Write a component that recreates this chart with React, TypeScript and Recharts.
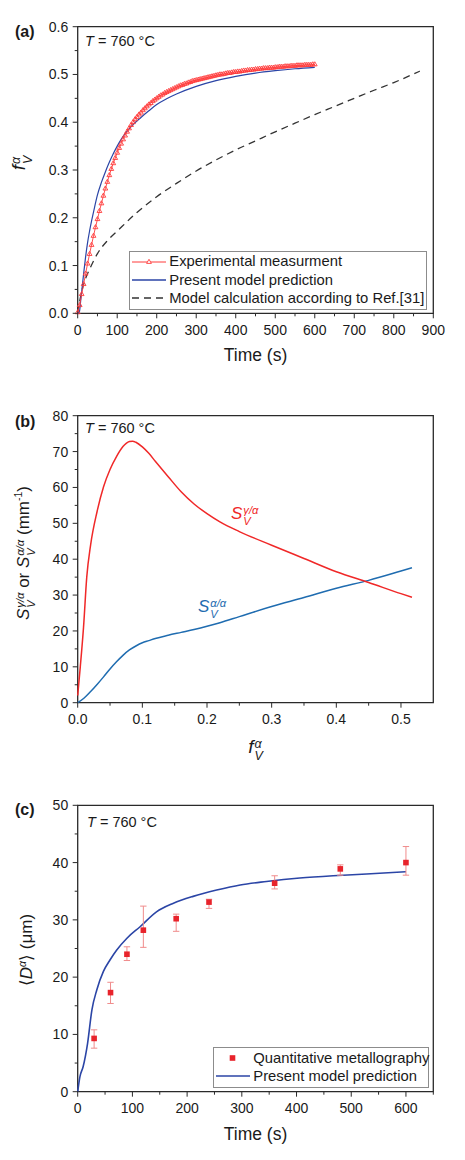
import React from "react"
import {
  LineChart,
  ComposedChart,
  Line,
  Scatter,
  ErrorBar,
  XAxis,
  YAxis,
  ReferenceArea,
} from "recharts"

const FONT = '"Liberation Sans", Arial, Helvetica, sans-serif'
const INK = "#1a1a1a"
const AXIS = "#2a2a2a"
const EXP_RED = "#ff3b3b"
const NAVY = "#2b45a6"
const B_RED = "#f02828"
const B_BLUE = "#1f6cb0"
const SQ_RED = "#e8232b"
const ERR_RED = "#f08c8c"

// ---- panel (a): ferrite fraction vs time ----
const timeMajor = [0, 100, 200, 300, 400, 500, 600, 700, 800, 900]
const timeMinor = [50, 150, 250, 350, 450, 550, 650, 750, 850]
const fracMajor = [0, 0.1, 0.2, 0.3, 0.4, 0.5, 0.6]
const fracMinor = [0.05, 0.15, 0.25, 0.35, 0.45, 0.55]

// experimental points, one every 5 s from 0 to 600 s
const expStep = 5
const expFraction = [
  0.002, 0.017, 0.04, 0.061, 0.083, 0.104, 0.124, 0.143, 0.162, 0.18, 0.197,
  0.214, 0.23, 0.246, 0.261, 0.275, 0.289, 0.302, 0.314, 0.325, 0.336,
  0.346, 0.355, 0.364, 0.372, 0.38, 0.387, 0.394, 0.4, 0.406, 0.411,
  0.416, 0.42, 0.425, 0.429, 0.433, 0.437, 0.44, 0.444, 0.447, 0.45,
  0.453, 0.456, 0.458, 0.461, 0.463, 0.465, 0.467, 0.469, 0.471, 0.473,
  0.475, 0.477, 0.478, 0.48, 0.481, 0.483, 0.484, 0.486, 0.487, 0.488,
  0.489, 0.49, 0.491, 0.492, 0.493, 0.494, 0.495, 0.496, 0.497, 0.498,
  0.499, 0.5, 0.5, 0.501, 0.502, 0.503, 0.503, 0.504, 0.505, 0.505,
  0.506, 0.506, 0.507, 0.508, 0.508, 0.509, 0.509, 0.51, 0.51, 0.511,
  0.511, 0.512, 0.512, 0.513, 0.513, 0.513, 0.514, 0.514, 0.514, 0.515,
  0.515, 0.516, 0.516, 0.516, 0.517, 0.517, 0.517, 0.518, 0.518, 0.518,
  0.519, 0.519, 0.519, 0.519, 0.52, 0.52, 0.52, 0.52, 0.521, 0.521,
]

const modelTime = [
  0, 4, 8, 12, 16, 20, 25, 30, 35, 40, 50, 60, 70, 80, 90, 100, 110, 120, 130,
  140, 160, 180, 200, 225, 250, 300, 350, 400, 450, 500, 550, 600,
]
const modelFraction = [
  0, 0.002, 0.03, 0.06, 0.09, 0.118, 0.148, 0.172, 0.193, 0.212, 0.248, 0.274,
  0.296, 0.316, 0.334, 0.35, 0.364, 0.376, 0.386, 0.395, 0.41, 0.424, 0.437,
  0.449, 0.459, 0.475, 0.487, 0.496, 0.503, 0.508, 0.512, 0.515,
]

const refTime = [
  0, 5, 10, 20, 30, 50, 75, 100, 150, 200, 250, 300, 350, 400, 450, 500, 550,
  600, 650, 700, 750, 800, 866,
]
const refFraction = [
  0, 0.025, 0.045, 0.073, 0.092, 0.125, 0.152, 0.172, 0.211, 0.244, 0.272,
  0.298, 0.321, 0.342, 0.361, 0.38, 0.398, 0.416, 0.433, 0.45, 0.467, 0.483,
  0.507,
]

// ---- panel (b): interface area vs fraction ----
const bFracMajor = [0, 0.1, 0.2, 0.3, 0.4, 0.5]
const bFracMinor = [0.05, 0.15, 0.25, 0.35, 0.45]
const areaMajor = [0, 10, 20, 30, 40, 50, 60, 70, 80]
const areaMinor = [5, 15, 25, 35, 45, 55, 65, 75]

const gammaFrac = [
  0, 0.004, 0.009, 0.014, 0.02, 0.03, 0.04, 0.05, 0.06, 0.07, 0.075, 0.08,
  0.085, 0.09, 0.1, 0.11, 0.12, 0.14, 0.16, 0.18, 0.2, 0.22, 0.25, 0.3, 0.35,
  0.4, 0.45, 0.5, 0.517,
]
const gammaArea = [
  2, 10, 21, 35, 44, 53.3, 60.2, 65, 68.6, 71.4, 72.3, 72.8, 72.9, 72.6, 71.3,
  69.5, 67.3, 63, 58.8, 55.4, 52.7, 50.4, 47.7, 43.9, 40.2, 36.5, 33.5, 30.4,
  29.4,
]

const alphaFrac = [
  0, 0.01, 0.02, 0.03, 0.04, 0.05, 0.06, 0.07, 0.08, 0.09, 0.1, 0.11, 0.12,
  0.14, 0.16, 0.18, 0.2, 0.22, 0.25, 0.3, 0.35, 0.4, 0.45, 0.5, 0.517,
]
const alphaArea = [
  0, 1.3, 3.1, 5.1, 7.2, 9.4, 11.4, 13.2, 14.7, 15.8, 16.7, 17.3, 17.9, 18.8,
  19.6, 20.4, 21.3, 22.3, 24, 26.8, 29.3, 31.9, 34.1, 36.7, 37.6,
]

// ---- panel (c): grain size vs time ----
const cTimeMajor = [0, 100, 200, 300, 400, 500, 600]
const cTimeMinor = [50, 150, 250, 350, 450, 550, 650]
const sizeMajor = [0, 10, 20, 30, 40, 50]
const sizeMinor = [5, 15, 25, 35, 45]

const metTime = [30, 60, 90, 120, 180, 240, 360, 480, 600]
const metSize = [9.3, 17.3, 24.0, 28.2, 30.2, 33.1, 36.4, 38.9, 40.0]
const metUpper = [10.8, 19.1, 25.3, 32.4, 31.0, 33.6, 37.7, 39.6, 42.8]
const metLower = [7.6, 15.4, 22.9, 25.2, 28.0, 32.0, 35.4, 37.8, 37.8]

const sizeModelTime = [
  0, 4, 10, 18, 26, 35, 47, 59, 71, 90, 114, 144, 175, 211, 254, 297, 345, 406,
  467, 528, 600,
]
const sizeModel = [
  0, 2.6, 4.4, 8.4, 14.3, 17.8, 21.0, 23.0, 24.7, 26.8, 28.8, 31.4, 32.9, 34.1,
  35.2, 36.1, 36.7, 37.3, 37.7, 38.0, 38.4,
]

const pairs = (xs: number[], ys: number[]) => xs.map((x, i) => ({ x, y: ys[i] }))

const expData = expFraction.map((y, i) => ({ x: i * expStep, y }))
const modelData = pairs(modelTime, modelFraction)
const refData = pairs(refTime, refFraction)
const gammaData = pairs(gammaFrac, gammaArea)
const alphaData = pairs(alphaFrac, alphaArea)
const metData = metTime.map((x, i) => ({
  x,
  y: metSize[i],
  err: [metSize[i] - metLower[i], metUpper[i] - metSize[i]],
}))
const sizeModelData = pairs(sizeModelTime, sizeModel)

const isMajor = (v: number, majors: number[]) =>
  majors.some((m) => Math.abs(m - v) < 1e-9)
const allTicks = (a: number[], b: number[]) => [...a, ...b].sort((p, q) => p - q)

function BottomTick({ x, y, payload, majors, fmt }: any) {
  const major = isMajor(payload.value, majors)
  return (
    <g>
      <line x1={x} x2={x} y1={y} y2={y + (major ? 5 : 3)} stroke={AXIS} strokeWidth={1} />
      {major && (
        <text x={x} y={y + 21.5} textAnchor="middle" fontSize={14} fill={INK} fontFamily={FONT}>
          {fmt(payload.value)}
        </text>
      )}
    </g>
  )
}

function LeftTick({ x, y, payload, majors, fmt }: any) {
  const major = isMajor(payload.value, majors)
  return (
    <g>
      <line x1={x} x2={x - (major ? 5 : 3)} y1={y} y2={y} stroke={AXIS} strokeWidth={1} />
      {major && (
        <text x={x - 9.5} y={y + 5} textAnchor="end" fontSize={14} fill={INK} fontFamily={FONT}>
          {fmt(payload.value)}
        </text>
      )}
    </g>
  )
}

const fixed1 = (v: number) => v.toFixed(1)
const whole = (v: number) => String(Math.round(v))

function Triangle(props: any) {
  const { cx, cy, index } = props
  if (cx == null || cy == null) return <g key={`t-${index}`} />
  return (
    <path
      key={`t-${index}`}
      d={`M${cx},${cy - 2.7}L${cx - 2.4},${cy + 1.4}L${cx + 2.4},${cy + 1.4}Z`}
      fill="none"
      stroke={EXP_RED}
      strokeWidth={0.9}
    />
  )
}

function Square(props: any) {
  const { cx, cy } = props
  return <rect x={cx - 2.8} y={cy - 2.8} width={5.6} height={5.6} fill={SQ_RED} />
}

function SubSup({ sub, sup }: { sub: string; sup: string }) {
  return (
    <span
      style={{
        display: "inline-flex",
        flexDirection: "column",
        verticalAlign: "0.42em",
        lineHeight: 0.95,
        fontSize: "0.66em",
        marginLeft: 1,
      }}
    >
      <span>{sup}</span>
      <span>{sub}</span>
    </span>
  )
}

function Txt({
  x,
  y,
  children,
  size = 14.5,
  rotate = false,
  center = false,
  style,
}: {
  x: number
  y: number
  children: React.ReactNode
  size?: number
  rotate?: boolean
  center?: boolean
  style?: React.CSSProperties
}) {
  const shift = center || rotate ? "-50%" : "0"
  return (
    <div
      style={{
        position: "absolute",
        left: x,
        top: y,
        transform: `translate(${shift}, -50%)${rotate ? " rotate(-90deg)" : ""}`,
        fontSize: size,
        color: INK,
        whiteSpace: "nowrap",
        lineHeight: 1.1,
        ...style,
      }}
    >
      {children}
    </div>
  )
}

const fV = (
  <>
    <i>f</i>
    <i>
      <SubSup sub="V" sup="α" />
    </i>
  </>
)

function Sample({ kind }: { kind: "exp" | "model" | "ref" | "square" | "line" }) {
  return (
    <svg width={34} height={10} style={{ display: "block", flexShrink: 0 }}>
      {kind === "exp" && (
        <>
          <line x1={0} x2={34} y1={5} y2={5} stroke={EXP_RED} strokeWidth={1} />
          <path d="M17,2.3L14.6,6.4L19.4,6.4Z" fill="white" stroke={EXP_RED} strokeWidth={0.9} />
        </>
      )}
      {(kind === "model" || kind === "line") && (
        <line x1={0} x2={34} y1={5} y2={5} stroke={NAVY} strokeWidth={1.3} />
      )}
      {kind === "ref" && (
        <line x1={0} x2={34} y1={5} y2={5} stroke="#333" strokeWidth={1.3} strokeDasharray="7 5" />
      )}
      {kind === "square" && <rect x={13.7} y={2.2} width={5.6} height={5.6} fill={SQ_RED} />}
    </svg>
  )
}

function LegendBox({
  left,
  top,
  width,
  rows,
}: {
  left: number
  top: number
  width: number
  rows: { kind: any; label: string }[]
}) {
  return (
    <div
      style={{
        position: "absolute",
        left,
        top,
        width,
        boxSizing: "border-box",
        border: "1px solid #8c8c8c",
        background: "white",
        padding: "1px 0 1px 2px",
      }}
    >
      {rows.map((r) => (
        <div key={r.label} style={{ display: "flex", alignItems: "center", height: 18.3 }}>
          <Sample kind={r.kind} />
          <span
            style={{
              marginLeft: 3,
              fontSize: 14.8,
              color: INK,
              lineHeight: 1,
              whiteSpace: "nowrap",
            }}
          >
            {r.label}
          </span>
        </div>
      ))}
    </div>
  )
}

function PanelA() {
  return (
    <LineChart width={465} height={370} margin={{ top: 26.7, right: 31.7, left: 27.7, bottom: 26.7 }}>
      <XAxis
        dataKey="x"
        type="number"
        domain={[0, 900]}
        ticks={allTicks(timeMajor, timeMinor)}
        interval={0}
        height={30}
        axisLine={false}
        tickLine={false}
        tickSize={0}
        tickMargin={0}
        tick={<BottomTick majors={timeMajor} fmt={whole} />}
      />
      <YAxis
        type="number"
        domain={[0, 0.6]}
        ticks={allTicks(fracMajor, fracMinor)}
        interval={0}
        width={50}
        axisLine={false}
        tickLine={false}
        tickSize={0}
        tickMargin={0}
        tick={<LeftTick majors={fracMajor} fmt={fixed1} />}
      />
      <ReferenceArea x1={0} x2={900} y1={0} y2={0.6} fill="none" stroke={AXIS} strokeWidth={1.3} ifOverflow="visible" />
      <Line data={refData} dataKey="y" type="monotone" stroke="#333" strokeWidth={1.3} strokeDasharray="7 5" dot={false} activeDot={false} isAnimationActive={false} />
      <Line data={modelData} dataKey="y" type="monotone" stroke={NAVY} strokeWidth={1.2} dot={false} activeDot={false} isAnimationActive={false} />
      <Line data={expData} dataKey="y" type="linear" stroke={EXP_RED} strokeWidth={0.9} dot={Triangle} activeDot={false} isAnimationActive={false} />
    </LineChart>
  )
}

function PanelB() {
  return (
    <LineChart width={465} height={420} margin={{ top: 45.7, right: 31.7, left: 27.7, bottom: 57.3 }}>
      <XAxis
        dataKey="x"
        type="number"
        domain={[0, 0.55]}
        ticks={allTicks(bFracMajor, bFracMinor)}
        interval={0}
        height={30}
        axisLine={false}
        tickLine={false}
        tickSize={0}
        tickMargin={0}
        tick={<BottomTick majors={bFracMajor} fmt={fixed1} />}
      />
      <YAxis
        type="number"
        domain={[0, 80]}
        ticks={allTicks(areaMajor, areaMinor)}
        interval={0}
        width={50}
        axisLine={false}
        tickLine={false}
        tickSize={0}
        tickMargin={0}
        tick={<LeftTick majors={areaMajor} fmt={whole} />}
      />
      <ReferenceArea x1={0} x2={0.55} y1={0} y2={80} fill="none" stroke={AXIS} strokeWidth={1.3} ifOverflow="visible" />
      <Line data={alphaData} dataKey="y" type="monotone" stroke={B_BLUE} strokeWidth={1.5} dot={false} activeDot={false} isAnimationActive={false} />
      <Line data={gammaData} dataKey="y" type="monotone" stroke={B_RED} strokeWidth={1.5} dot={false} activeDot={false} isAnimationActive={false} />
    </LineChart>
  )
}

function PanelC() {
  return (
    <ComposedChart width={465} height={370} margin={{ top: 15.3, right: 31.7, left: 27.7, bottom: 38.3 }}>
      <XAxis
        dataKey="x"
        type="number"
        domain={[0, 650]}
        ticks={allTicks(cTimeMajor, cTimeMinor)}
        interval={0}
        height={30}
        axisLine={false}
        tickLine={false}
        tickSize={0}
        tickMargin={0}
        tick={<BottomTick majors={cTimeMajor} fmt={whole} />}
      />
      <YAxis
        dataKey="y"
        type="number"
        domain={[0, 50]}
        ticks={allTicks(sizeMajor, sizeMinor)}
        interval={0}
        width={50}
        axisLine={false}
        tickLine={false}
        tickSize={0}
        tickMargin={0}
        tick={<LeftTick majors={sizeMajor} fmt={whole} />}
      />
      <ReferenceArea x1={0} x2={650} y1={0} y2={50} fill="none" stroke={AXIS} strokeWidth={1.3} ifOverflow="visible" />
      <Line data={sizeModelData} dataKey="y" type="monotone" stroke={NAVY} strokeWidth={1.6} dot={false} activeDot={false} isAnimationActive={false} />
      <Scatter data={metData} dataKey="y" shape={<Square />} isAnimationActive={false}>
        <ErrorBar dataKey="err" direction="y" width={3.2} stroke={ERR_RED} strokeWidth={1} />
      </Scatter>
    </ComposedChart>
  )
}

export default function App() {
  return (
    <div
      style={{
        position: "absolute",
        left: 0,
        top: 0,
        width: 465,
        height: 1160,
        background: "white",
        fontFamily: FONT,
        color: INK,
        overflow: "hidden",
      }}
    >
      <div style={{ position: "absolute", left: 0, top: 0 }}>
        <PanelA />
      </div>
      <div style={{ position: "absolute", left: 0, top: 370 }}>
        <PanelB />
      </div>
      <div style={{ position: "absolute", left: 0, top: 790 }}>
        <PanelC />
      </div>

      {/* panel (a) texts */}
      <Txt x={15} y={32} size={16} style={{ fontWeight: "bold" }}>(a)</Txt>
      <Txt x={85} y={42}>
        <i>T</i> = 760 °C
      </Txt>
      <Txt x={22} y={163} size={19} rotate>
        {fV}
      </Txt>
      <Txt x={255.5} y={356} size={17.5} center>
        Time (s)
      </Txt>
      <LegendBox
        left={129.3}
        top={250.7}
        width={298}
        rows={[
          { kind: "exp", label: "Experimental measurment" },
          { kind: "model", label: "Present model prediction" },
          { kind: "ref", label: "Model calculation according to Ref.[31]" },
        ]}
      />

      {/* panel (b) texts */}
      <Txt x={15} y={421.7} size={16} style={{ fontWeight: "bold" }}>(b)</Txt>
      <Txt x={85} y={429.3}>
        <i>T</i> = 760 °C
      </Txt>
      <Txt x={25} y={553} size={17} rotate>
        <i>S</i>
        <i>
          <SubSup sub="V" sup="γ/α" />
        </i>{" "}
        or <i>S</i>
        <i>
          <SubSup sub="V" sup="α/α" />
        </i>{" "}
        (mm<sup style={{ fontSize: "0.62em" }}>-1</sup>)
      </Txt>
      <Txt x={255.5} y={750} size={19} center>
        {fV}
      </Txt>
      <Txt x={231} y={516} size={17} style={{ color: B_RED }}>
        <i>S</i>
        <i>
          <SubSup sub="V" sup="γ/α" />
        </i>
      </Txt>
      <Txt x={198} y={609} size={17} style={{ color: B_BLUE }}>
        <i>S</i>
        <i>
          <SubSup sub="V" sup="α/α" />
        </i>
      </Txt>

      {/* panel (c) texts */}
      <Txt x={15} y={810} size={16} style={{ fontWeight: "bold" }}>(c)</Txt>
      <Txt x={87} y={823.3}>
        <i>T</i> = 760 °C
      </Txt>
      <Txt x={27} y={950} size={17} rotate>
        ⟨<i>D</i>
        <sup style={{ fontSize: "0.62em" }}>
          <i>α</i>
        </sup>
        ⟩ (μm)
      </Txt>
      <Txt x={255.5} y={1135} size={17.5} center>
        Time (s)
      </Txt>
      <LegendBox
        left={213.3}
        top={1047}
        width={216}
        rows={[
          { kind: "square", label: "Quantitative metallography" },
          { kind: "line", label: "Present model prediction" },
        ]}
      />
    </div>
  )
}
